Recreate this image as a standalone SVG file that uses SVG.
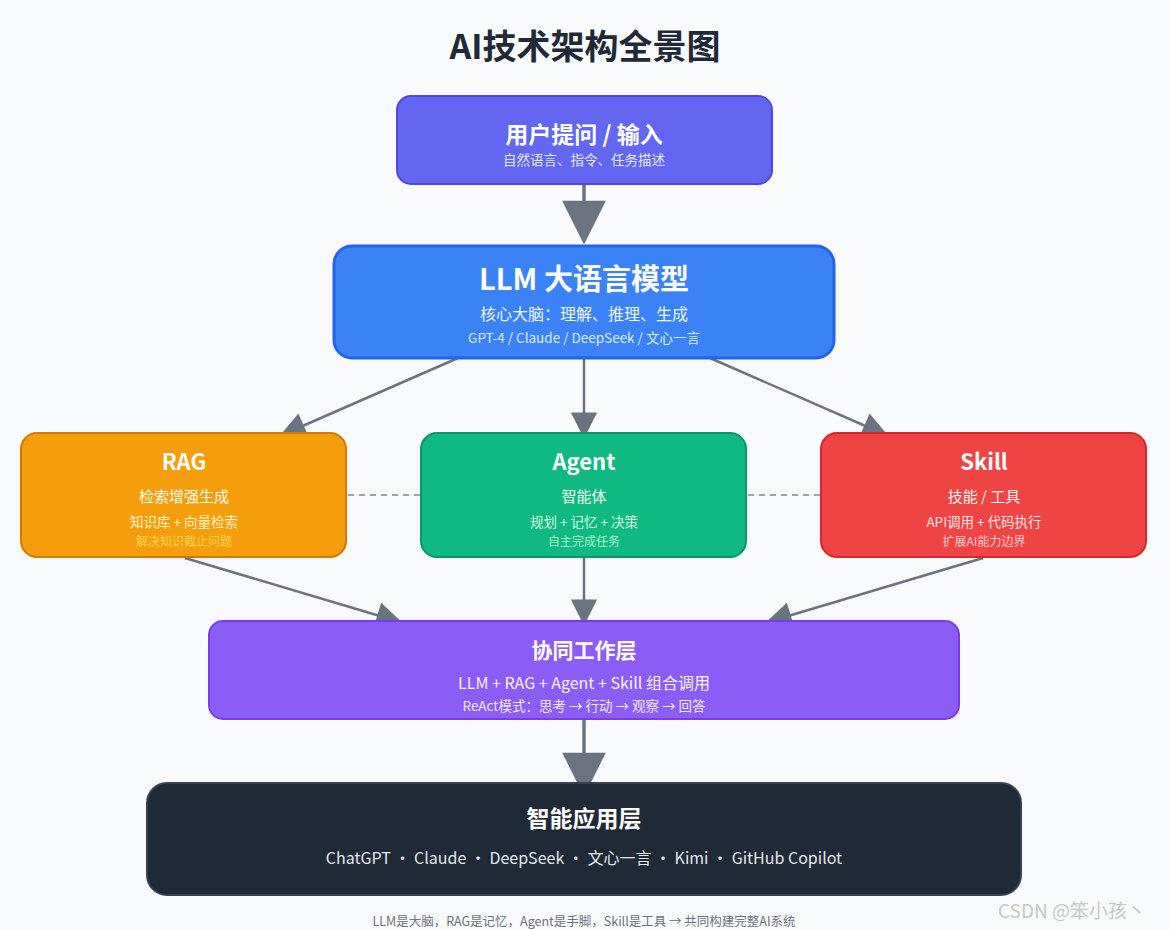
<svg xmlns="http://www.w3.org/2000/svg" width="1170" height="930" viewBox="0 0 1170 930">
<defs>
<marker id="ah" viewBox="0 0 10 10" refX="9" refY="5" markerWidth="12" markerHeight="10.5" markerUnits="strokeWidth" orient="auto"><path d="M0,0 L10,5 L0,10 z" fill="#6b7280"/></marker>
<marker id="ahb" viewBox="0 0 10 10" refX="9" refY="5" markerWidth="13" markerHeight="12.5" markerUnits="strokeWidth" orient="auto"><path d="M0,0 L10,5 L0,10 z" fill="#6b7280"/></marker>
</defs>
<style>
text{font-family:"Noto Sans CJK SC","Liberation Sans",sans-serif;text-anchor:middle}
.t{fill:#fff;font-weight:bold}
.c{stroke:#6b7280;fill:none}
</style>
<rect width="1170" height="930" fill="#f9fafb"/>
<text x="585" y="59" font-size="34" font-weight="bold" fill="#1f2937">AI技术架构全景图</text>
<g id="connectors">
<line class="c" x1="584" y1="184" x2="584" y2="240" stroke-width="3.5" marker-end="url(#ahb)"/>
<line class="c" x1="458" y1="358" x2="282" y2="435" stroke-width="2.5" marker-end="url(#ah)"/>
<line class="c" x1="584" y1="358" x2="584" y2="436" stroke-width="2.5" marker-end="url(#ah)"/>
<line class="c" x1="710" y1="358" x2="886" y2="435" stroke-width="2.5" marker-end="url(#ah)"/>
<line class="c" x1="185" y1="558" x2="400" y2="622" stroke-width="2.5" marker-end="url(#ah)"/>
<line class="c" x1="584" y1="558" x2="584" y2="623" stroke-width="2.5" marker-end="url(#ah)"/>
<line class="c" x1="983" y1="558" x2="768" y2="622" stroke-width="2.5" marker-end="url(#ah)"/>
<line class="c" x1="584" y1="720" x2="584" y2="792" stroke-width="3.5" marker-end="url(#ahb)"/>
<line x1="348" y1="495" x2="420" y2="495" stroke="#9ca3af" stroke-width="2" stroke-dasharray="6,5"/>
<line x1="748" y1="495" x2="820" y2="495" stroke="#9ca3af" stroke-width="2" stroke-dasharray="6,5"/>
</g>
<g id="input">
<rect x="397" y="96" width="375" height="88" rx="14" fill="#6366f1" stroke="#4f46e5" stroke-width="2"/>
<text class="t" x="584" y="143" font-size="23">用户提问 / 输入</text>
<text x="584" y="165" font-size="13.5" fill="#e0e7ff">自然语言、指令、任务描述</text>
</g>
<g id="llm">
<rect x="334" y="246" width="500" height="112" rx="18" fill="#3b82f6" stroke="#2563eb" stroke-width="3"/>
<text class="t" x="584" y="290" font-size="29">LLM 大语言模型</text>
<text x="584" y="320" font-size="16" fill="#eff6ff">核心大脑：理解、推理、生成</text>
<text x="584" y="343" font-size="13.5" fill="#dbeafe">GPT-4 / Claude / DeepSeek / 文心一言</text>
</g>
<g id="rag">
<rect x="21" y="433" width="325" height="124" rx="16" fill="#f59e0b" stroke="#d97706" stroke-width="2"/>
<text class="t" x="184" y="470" font-size="22">RAG</text>
<text x="184" y="502" font-size="15" fill="#fffbeb">检索增强生成</text>
<text x="184" y="527" font-size="13.5" fill="#fef3c7">知识库 + 向量检索</text>
<text x="184" y="546" font-size="12" fill="#fcd34d">解决知识截止问题</text>
</g>
<g id="agent">
<rect x="421" y="433" width="325" height="124" rx="16" fill="#10b981" stroke="#059669" stroke-width="2"/>
<text class="t" x="584" y="470" font-size="22">Agent</text>
<text x="584" y="502" font-size="15" fill="#ecfdf5">智能体</text>
<text x="584" y="527" font-size="13.5" fill="#d1fae5">规划 + 记忆 + 决策</text>
<text x="584" y="546" font-size="12" fill="#a7f3d0">自主完成任务</text>
</g>
<g id="skill">
<rect x="821" y="433" width="325" height="124" rx="16" fill="#ef4444" stroke="#dc2626" stroke-width="2"/>
<text class="t" x="984" y="470" font-size="22">Skill</text>
<text x="984" y="502" font-size="15" fill="#fef2f2">技能 / 工具</text>
<text x="984" y="527" font-size="13.5" fill="#fee2e2">API调用 + 代码执行</text>
<text x="984" y="546" font-size="12" fill="#fecaca">扩展AI能力边界</text>
</g>
<g id="collab">
<rect x="209" y="621" width="750" height="98" rx="14" fill="#8b5cf6" stroke="#7c3aed" stroke-width="2"/>
<text class="t" x="584" y="658" font-size="21">协同工作层</text>
<text x="584" y="689" font-size="16" fill="#f5f3ff">LLM + RAG + Agent + Skill 组合调用</text>
<text x="584" y="711" font-size="13.5" fill="#ede9fe">ReAct模式：思考 → 行动 → 观察 → 回答</text>
</g>
<g id="apps">
<rect x="147" y="783" width="874" height="112" rx="20" fill="#1f2937" stroke="#374151" stroke-width="2"/>
<text class="t" x="584" y="827" font-size="23">智能应用层</text>
<text x="584" y="864" font-size="16" fill="#e5e7eb">ChatGPT · Claude · DeepSeek · 文心一言 · Kimi · GitHub Copilot</text>
</g>
<text x="584" y="926" font-size="12.5" fill="#6b7280">LLM是大脑，RAG是记忆，Agent是手脚，Skill是工具 → 共同构建完整AI系统</text>
<text x="1072" y="918" font-size="19" fill="#c8c8c8">CSDN @笨小孩丶</text>
</svg>
